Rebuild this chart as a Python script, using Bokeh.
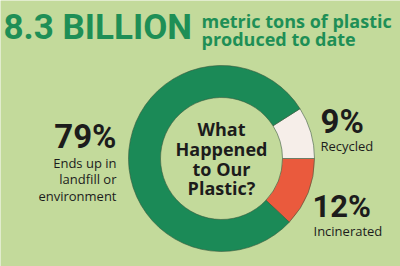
import math
from bokeh.plotting import figure
from bokeh.models import Range1d, ColumnDataSource
from bokeh.core.properties import value
from bokeh.embed import file_html
from bokeh.resources import INLINE

# ---- data ----
categories = ["Incinerated", "Recycled", "Ends up in landfill or environment"]
shares = [12, 9, 79]
slice_colors = ["#ea5a3d", "#f6eee9", "#1b8a57"]
pct_labels = ["12%", "9%", "79%"]
headline = "8.3 BILLION"
subtitle = ["metric tons of plastic", "produced to date"]
center_text = ["What", "Happened", "to Our", "Plastic?"]

W, H = 400, 266
BG = "#c3da9b"

def Y(v):
    return H - v

p = figure(width=W, height=H, output_backend="svg", toolbar_location=None,
           x_range=Range1d(0, W), y_range=Range1d(0, H), min_border=0)
p.axis.visible = False
p.grid.visible = False
p.outline_line_color = None
p.background_fill_color = BG
p.border_fill_color = BG

# donut angles from shares, starting below the +x axis
total = sum(shares)
start0 = -2 * math.pi * shares[0] / total
starts, ends = [], []
acc = start0
for s in shares:
    starts.append(acc)
    acc += 2 * math.pi * s / total
    ends.append(acc)

src = ColumnDataSource(dict(cat=categories, share=shares, color=slice_colors,
                            start=starts, end=ends))
cx, cy = 221, Y(158)
p.annular_wedge(x=cx, y=cy, inner_radius=61, outer_radius=93,
                start_angle="start", end_angle="end", fill_color="color",
                line_color="#3d5a40", line_width=0.6, source=src,
                inner_radius_units="screen", outer_radius_units="screen")

PF = value("Roboto")

# headline
p.text(x=[3], y=[Y(27)], text=[headline], text_font=PF,
       text_font_style="bold", text_font_size="35px", text_color="#1e8f56",
       text_baseline="middle")
p.text(x=[201, 201], y=[Y(20), Y(38)], text=subtitle, text_font=value("Open Sans"),
       text_font_style="bold", text_font_size="18px", text_color="#1e8f56",
       text_baseline="middle")

# center question
p.text(x=[cx] * 4, y=[Y(128), Y(148.5), Y(168), Y(187)], text=center_text,
       text_font=value("Open Sans"), text_font_style="bold", text_font_size="18px",
       text_color="#1c1c1c", text_align="center", text_baseline="middle")

# percentage labels
p.text(x=[116], y=[Y(136)], text=[pct_labels[2]], text_font=PF, text_font_style="bold",
       text_font_size="33px", text_color="#1c1c1c", text_align="right",
       text_baseline="middle")
p.text(x=[116] * 3, y=[Y(162), Y(178), Y(195)],
       text=["Ends up in", "landfill or", "environment"], text_font=value("Open Sans"),
       text_font_size="13px", text_color="#1c1c1c", text_align="right",
       text_baseline="middle")

p.text(x=[320], y=[Y(121)], text=[pct_labels[1]], text_font=PF, text_font_style="bold",
       text_font_size="33px", text_color="#1c1c1c", text_baseline="middle")
p.text(x=[320], y=[Y(145)], text=[categories[1]], text_font=value("Open Sans"),
       text_font_size="13px", text_color="#1c1c1c", text_baseline="middle")

p.text(x=[312], y=[Y(206)], text=[pct_labels[0]], text_font=PF, text_font_style="bold",
       text_font_size="31px", text_color="#1c1c1c", text_baseline="middle")
p.text(x=[313], y=[Y(230)], text=[categories[0]], text_font=value("Open Sans"),
       text_font_size="13px", text_color="#1c1c1c", text_baseline="middle")

open("out.html", "w").write(file_html(p, INLINE))
